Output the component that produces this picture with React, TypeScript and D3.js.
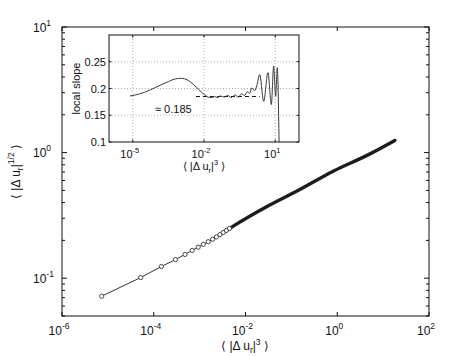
import React from "react";
import * as d3 from "d3";

// ---- main curve: sparse points drawn with open circle markers ----
const markerX = [7.33e-6, 5.19e-5, 1.47e-4, 2.97e-4, 4.79e-4, 6.9e-4, 9.31e-4, 1.2e-3, 1.54e-3, 1.92e-3, 2.32e-3, 2.77e-3, 3.27e-3, 3.84e-3, 4.46e-3];
const markerY = [0.0719, 0.1012, 0.1239, 0.1406, 0.1545, 0.1663, 0.1766, 0.1858, 0.1954, 0.2042, 0.2133, 0.2223, 0.2312, 0.2399, 0.2489];
// ---- main curve: dense part (markers overlap into a thick band) ----
const denseX = [3.27e-3, 5.4e-3, 0.0288, 0.153, 0.815, 4.35, 18.0];
const denseY = [0.2312, 0.26, 0.371, 0.508, 0.711, 0.946, 1.25];

// ---- inset: local slope ----
const slopeX = [7.6e-6, 2.0e-5, 5.2e-5, 1.26e-4, 3.2e-4, 6.3e-4, 1.12e-3, 2.0e-3, 3.5e-3, 6.3e-3, 1.0e-2, 1.45e-2, 2.0e-2, 2.8e-2, 3.5e-2, 5.0e-2, 7.1e-2, 0.1, 0.14, 0.2, 0.28, 0.38, 0.51, 0.66, 0.83, 1.02, 1.35, 1.66, 2.21, 3.26, 4.94, 6.85, 8.57, 10.4, 12.2, 14.5, 15.1];
const slopeY = [0.186, 0.19, 0.197, 0.205, 0.213, 0.218, 0.219, 0.216, 0.208, 0.197, 0.189, 0.184, 0.183, 0.185, 0.183, 0.186, 0.184, 0.187, 0.183, 0.188, 0.184, 0.19, 0.187, 0.194, 0.191, 0.201, 0.196, 0.205, 0.226, 0.176, 0.2295, 0.17, 0.242, 0.1855, 0.239, 0.1, 0.05];
const fitValue = 0.185;
const fitRange = [4.6e-3, 2.2];

const mainXTicks = [1e-6, 1e-4, 1e-2, 1e0, 1e2];
const mainXTickExp = ["-6", "-4", "-2", "0", "2"];
const mainYTicks = [1e-1, 1e0, 1e1];
const mainYTickExp = ["-1", "0", "1"];
const insetXTicks = [1e-5, 1e-2, 1e1];
const insetXTickExp = ["-5", "-2", "1"];
const insetYTicks = [0.1, 0.15, 0.2, 0.25];
const insetYTickLabels = ["0.1", "0.15", "0.2", "0.25"];

const FONT = "'Liberation Sans', Arial, Helvetica, sans-serif";

export default function App() {
  const W = 474, H = 356;
  const x = d3.scaleLog().domain([1e-6, 1e2]).range([62, 429]);
  const y = d3.scaleLog().domain([0.05, 10]).range([316, 27]);
  const ix = d3.scaleLog().domain([1e-6, 1e2]).range([109, 299]);
  const iy = d3.scaleLinear().domain([0.1, 0.3]).range([142, 35]);

  const [x0, x1] = x.range();
  const [yb, yt] = y.range();
  const [ix0, ix1] = ix.range();
  const [iyb, iyt] = iy.range();

  const line = d3.line<[number, number]>();
  const smooth = d3.line<[number, number]>().curve(d3.curveMonotoneX);
  const markerPts: [number, number][] = markerX.map((v, i) => [x(v), y(markerY[i])]);
  const densePts: [number, number][] = denseX.map((v, i) => [x(v), y(denseY[i])]);
  const slopePts: [number, number][] = slopeX.map((v, i) => [ix(v), iy(slopeY[i])]);

  // minor ticks for main y axis
  const minorY: number[] = [];
  for (let e = -2; e <= 0; e++) {
    for (let m = 2; m <= 9; m++) {
      const v = m * Math.pow(10, e);
      if (v >= 0.05 && v <= 10) minorY.push(v);
    }
  }

  const axisColor = "#111";

  return (
    <svg width={W} height={H} style={{ position: "absolute", left: 0, top: 0, background: "#fff" }} fontFamily={FONT}>
      <rect x={0} y={0} width={W} height={H} fill="#fff" />
      {/* main box */}
      <rect x={x0} y={yt} width={x1 - x0} height={yb - yt} fill="none" stroke={axisColor} strokeWidth={1} />
      {/* main x ticks */}
      {mainXTicks.map((t, i) => (
        <g key={"mx" + i}>
          <line x1={x(t)} x2={x(t)} y1={yb} y2={yb - 4} stroke={axisColor} />
          <line x1={x(t)} x2={x(t)} y1={yt} y2={yt + 4} stroke={axisColor} />
          <text x={x(t) - 3} y={yb + 19} fontSize={12} textAnchor="middle" fill="#111">
            10<tspan dy={-6} fontSize={8.5}>{mainXTickExp[i]}</tspan>
          </text>
        </g>
      ))}
      {/* main y ticks */}
      {mainYTicks.map((t, i) => (
        <g key={"my" + i}>
          <line x1={x0} x2={x0 + 5} y1={y(t)} y2={y(t)} stroke={axisColor} />
          <line x1={x1} x2={x1 - 5} y1={y(t)} y2={y(t)} stroke={axisColor} />
          <text x={33} y={y(t) + 4.5} fontSize={12} textAnchor="start" fill="#111">
            10<tspan dy={-6} fontSize={8.5}>{mainYTickExp[i]}</tspan>
          </text>
        </g>
      ))}
      {minorY.map((t, i) => (
        <g key={"mmy" + i}>
          <line x1={x0} x2={x0 + 3} y1={y(t)} y2={y(t)} stroke={axisColor} />
          <line x1={x1} x2={x1 - 3} y1={y(t)} y2={y(t)} stroke={axisColor} />
        </g>
      ))}
      {/* main axis labels */}
      <text x={245} y={349.5} fontSize={12} textAnchor="middle" fill="#111">
        ⟨ |Δ u<tspan dy={3} fontSize={8.5}>r</tspan><tspan dy={-3}>|</tspan><tspan dy={-5} fontSize={8.5}>3</tspan><tspan dy={5}> ⟩</tspan>
      </text>
      <text transform={`translate(20,${(yt + yb) / 2}) rotate(-90)`} fontSize={12} textAnchor="middle" fill="#111">
        ⟨ |Δ u<tspan dy={3} fontSize={8.5}>r</tspan><tspan dy={-3}>|</tspan><tspan dy={-6} fontSize={8.5}>1/2</tspan><tspan dy={6}> ⟩</tspan>
      </text>

      {/* main curve */}
      <path d={line(markerPts) || ""} fill="none" stroke="#333" strokeWidth={1} />
      <path d={smooth(densePts) || ""} fill="none" stroke="#1c1c1c" strokeWidth={3.4} strokeLinecap="round" />
      {markerPts.map((p, i) => (
        <circle key={"c" + i} cx={p[0]} cy={p[1]} r={2.1} fill="#fff" stroke="#333" strokeWidth={0.9} />
      ))}

      {/* inset */}
      <rect x={ix0} y={iyt} width={ix1 - ix0} height={iyb - iyt} fill="#fff" stroke="none" />
      {insetXTicks.map((t, i) => (
        <line key={"gx" + i} x1={ix(t)} x2={ix(t)} y1={iyb} y2={iyt} stroke="#999" strokeDasharray="1,2" strokeWidth={0.8} />
      ))}
      {insetYTicks.slice(1).map((t, i) => (
        <line key={"gy" + i} x1={ix0} x2={ix1} y1={iy(t)} y2={iy(t)} stroke="#999" strokeDasharray="1,2" strokeWidth={0.8} />
      ))}
      <defs>
        <clipPath id="insetClip">
          <rect x={ix0} y={iyt} width={ix1 - ix0} height={iyb - iyt} />
        </clipPath>
      </defs>
      <g clipPath="url(#insetClip)">
        <line x1={ix(fitRange[0])} x2={ix(fitRange[1])} y1={iy(fitValue)} y2={iy(fitValue)} stroke="#111" strokeWidth={1} strokeDasharray="4,3" />
        <path d={smooth(slopePts) || ""} fill="none" stroke="#3a3a3a" strokeWidth={1} />
      </g>
      <rect x={ix0} y={iyt} width={ix1 - ix0} height={iyb - iyt} fill="none" stroke={axisColor} strokeWidth={1} />
      {insetXTicks.map((t, i) => (
        <g key={"ixt" + i}>
          <line x1={ix(t)} x2={ix(t)} y1={iyb} y2={iyb - 2.5} stroke={axisColor} />
          <line x1={ix(t)} x2={ix(t)} y1={iyt} y2={iyt + 2.5} stroke={axisColor} />
          <text x={ix(t) - 3} y={157.5} fontSize={11} textAnchor="middle" fill="#111">
            10<tspan dy={-5} fontSize={7.5}>{insetXTickExp[i]}</tspan>
          </text>
        </g>
      ))}
      {insetYTicks.map((t, i) => (
        <g key={"iyt" + i}>
          <line x1={ix0} x2={ix0 + 2.5} y1={iy(t)} y2={iy(t)} stroke={axisColor} />
          <line x1={ix1} x2={ix1 - 2.5} y1={iy(t)} y2={iy(t)} stroke={axisColor} />
          <text x={106} y={iy(t) + 4} fontSize={11} textAnchor="end" fill="#111">
            {insetYTickLabels[i]}
          </text>
        </g>
      ))}
      <text x={204} y={169.5} fontSize={11} textAnchor="middle" fill="#111">
        ⟨ |Δ u<tspan dy={3} fontSize={7.5}>r</tspan><tspan dy={-3}>|</tspan><tspan dy={-5} fontSize={7.5}>3</tspan><tspan dy={5}> ⟩</tspan>
      </text>
      <text transform={`translate(80,${(iyt + iyb) / 2}) rotate(-90)`} fontSize={11} textAnchor="middle" fill="#111">
        local slope
      </text>
      <text x={155} y={113} fontSize={11} fill="#111">≈ 0.185</text>
    </svg>
  );
}
